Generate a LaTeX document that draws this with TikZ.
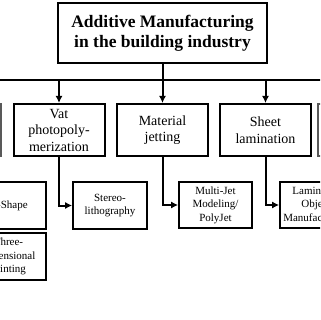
\documentclass[tikz,border=0pt]{standalone}
\usepackage{fontspec}
\setmainfont{Liberation Serif}
\usetikzlibrary{arrows.meta}
\tikzset{
  topbox/.style={draw, line width=2.4pt, minimum width=209pt, minimum height=60pt, inner sep=0pt, align=center, font=\fontsize{17.5}{20}\selectfont\bfseries},
  catbox/.style={draw, line width=2pt, minimum width=91pt, minimum height=52pt, inner sep=0pt, align=center, font=\fontsize{14}{16.5}\selectfont},
  edgebox/.style={draw=black!65, line width=2.2pt, minimum width=91pt, minimum height=52pt, inner sep=0pt},
  subbox/.style={draw, line width=1.7pt, minimum width=74pt, minimum height=47pt, inner sep=0pt, align=center, font=\fontsize{11}{13.5}\selectfont},
  conn/.style={line width=2pt},
  arr/.style={line width=2pt, -{Latex[length=7pt,width=7pt]}},
}
\begin{document}
\begin{tikzpicture}[x=1pt,y=-1pt]
\useasboundingbox (0,0) rectangle (320,320);
\clip (0,0) rectangle (320,320);
\node[topbox] (top) at (162.5,33) {Additive Manufacturing\\in the building industry};
\coordinate (bus) at (162.5,80.5);
\coordinate (busL) at (-60,80.5);
\coordinate (busR) at (380,80.5);
\node[edgebox] (left) at (-44.5,130) {};
\node[catbox] (vat) at (59,130) {Vat\\photopoly-\\merization};
\node[catbox] (mat) at (162.5,130) {Material\\jetting};
\node[catbox] (sheet) at (265.5,130) {Sheet\\lamination};
\node[edgebox] (right) at (363.5,130) {};
\node[subbox, minimum width=75pt] (shape) at (8.5,205.5) {D-Shape};
\node[subbox, minimum width=75pt] (three) at (8.5,256.5) {Three-\\dimensional\\printing};
\node[subbox] (stereo) at (110,205.5) {Stereo-\\lithography};
\node[subbox, minimum width=73pt, minimum height=46pt] (multi) at (215.5,205) {Multi-Jet\\Modeling/\\PolyJet};
\node[subbox, minimum width=72pt, minimum height=46pt] (lom) at (316,205) {Laminated\\Object\\Manufacturing};
\draw[conn] (top.south) -- (bus);
\draw[conn] (busL) -- (busR);
\draw[arr] (left.north |- bus) -- (left.north);
\draw[arr] (vat.north |- bus) -- (vat.north);
\draw[arr] (mat.north |- bus) -- (mat.north);
\draw[arr] (sheet.north |- bus) -- (sheet.north);
\draw[arr] (right.north |- bus) -- (right.north);
\draw[arr] (vat.south) -- (vat.south |- stereo.west) -- (stereo.west);
\draw[arr] (mat.south) -- (mat.south |- multi.west) -- (multi.west);
\draw[arr] (sheet.south) -- (sheet.south |- lom.west) -- (lom.west);
\end{tikzpicture}
\end{document}
